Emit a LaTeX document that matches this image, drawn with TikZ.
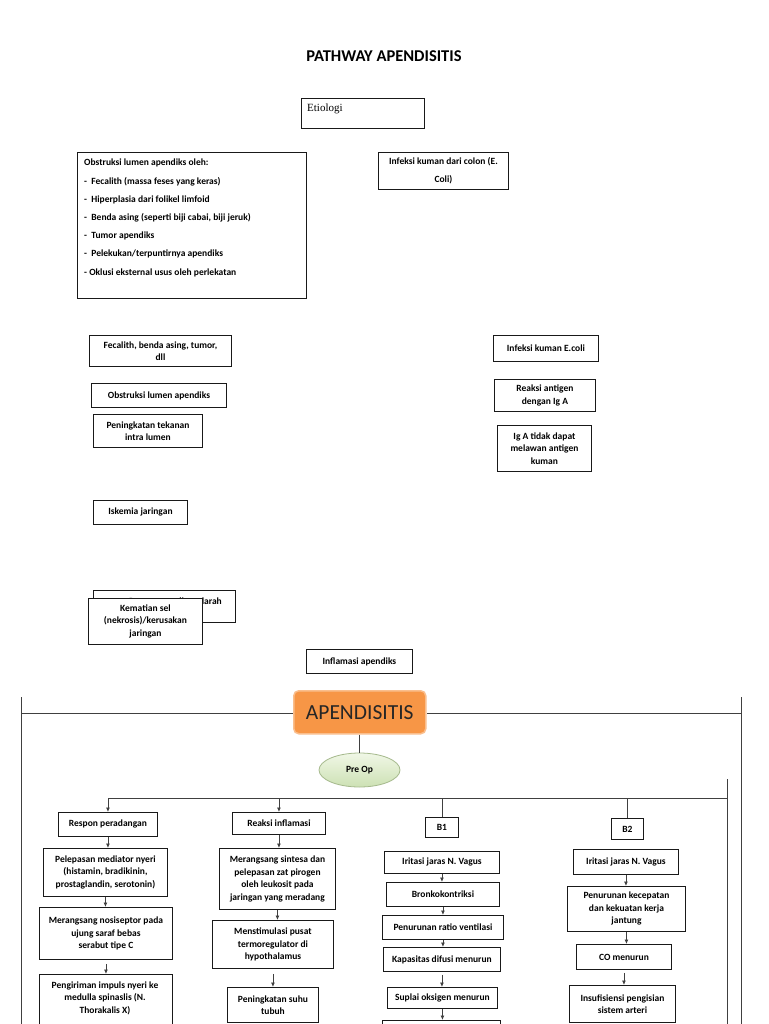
\documentclass[tikz,border=0pt]{standalone}
\usepackage{fontspec}
\setmainfont{Carlito}
\newfontfamily\etiofont{Liberation Serif}
\usetikzlibrary{shapes.geometric,arrows.meta}
\newcommand\bodyf{\fontsize{9.5}{12.5}\selectfont\bfseries}
\newcommand\bodysp{\fontsize{9.5}{18.2}\selectfont\bfseries}
\definecolor{apor}{RGB}{247,150,70}
\definecolor{apbd}{RGB}{250,190,140}
\definecolor{pogr}{RGB}{205,225,180}
\definecolor{potop}{RGB}{240,247,230}
\definecolor{pobd}{RGB}{165,185,140}
\newcommand\bxx[7][]{\node[box,#1,minimum width=#5pt,minimum height=#6pt] (#2) at (#3,#4) {#7};}
\begin{document}
\begin{tikzpicture}[x=1pt,y=-1pt,
  box/.style={draw=black!90, line width=0.9pt, fill=white, inner sep=0pt, anchor=north west, align=center, font=\bodyf},
  txt/.style={font=\bodyf, align=center, inner sep=0pt},
  ln/.style={draw=black!75, line width=0.8pt},
  arr/.style={ln, -{Latex[length=4.5pt,width=4pt]}}]
\useasboundingbox (0,0) rectangle (768,1024);
\clip (0,0) rectangle (768,1024);
\fill[white] (0,0) rectangle (768,1024);

% title
\node[font=\fontsize{16.5}{19}\selectfont\bfseries, inner sep=0pt] (title) at (384,56) {PATHWAY APENDISITIS};

% etiologi
\bxx{etio}{301}{98}{123}{30}{}
\node[anchor=base west, font=\etiofont\fontsize{11}{13}\selectfont, inner sep=0pt] (etio-t) at (307,111.5) {Etiologi};

\bxx{obs}{77}{152}{229}{146}{}
\node[anchor=north west, align=left, inner sep=0pt, font=\bodysp] (obs-t) at (84,159) {Obstruksi lumen apendiks oleh:\\
-~~Fecalith (massa feses yang keras)\\
-~~Hiperplasia dari folikel limfoid\\
-~~Benda asing (seperti biji cabai, biji jeruk)\\
-~~Tumor apendiks\\
-~~Pelekukan/terpuntirnya apendiks\\
-~Oklusi eksternal usus oleh perlekatan};

\bxx[font=\bodysp]{infcol}{378}{152}{130}{37}{Infeksi kuman dari colon (E.\\Coli)}

% middle left
\bxx{fec}{89}{335}{142}{31}{Fecalith, benda asing, tumor,\\dll}
\bxx{obl}{91}{383}{135}{24}{Obstruksi lumen apendiks}
\bxx{pen}{93}{414}{109}{33}{Peningkatan tekanan\\intra lumen}
\bxx{isk}{93}{500}{94}{24}{Iskemia jaringan}
\bxx{pad}{93}{590}{142}{32}{}
\node[txt, anchor=base east] (pad-t) at (222,604) {Penurunan aliran darah};
\bxx{kem}{88}{598}{114}{46}{Kematian sel\\(nekrosis)/kerusakan\\jaringan}
\bxx{inf}{306}{649}{106}{24}{Inflamasi apendiks}

% middle right
\bxx{ecoli}{493}{335}{105}{26}{Infeksi kuman E.coli}
\bxx{reak}{494}{379}{101}{32}{Reaksi antigen\\dengan Ig A}
\bxx{iga}{497}{425}{94}{46}{Ig A tidak dapat\\melawan antigen\\kuman}

% frame
\coordinate (flt) at (21,697); \coordinate (flb) at (21,1030);
\coordinate (frt) at (741,697); \coordinate (frb) at (741,1030);
\coordinate (fl) at (21,713); \coordinate (fr) at (741,713);
\draw[ln] (flt) -- (flb);
\draw[ln] (frt) -- (frb);

\node[rectangle, rounded corners=5pt, fill=apor, draw=apbd, line width=1.5pt, minimum width=132pt, minimum height=43pt, anchor=north west, inner sep=0pt, font=\fontsize{21.5}{24}\selectfont, text=black!85] (apd) at (293,690) {APENDISITIS};
\draw[ln] (fl) -- (fl -| apd.west);
\draw[ln] (fr) -- (fr -| apd.east);

\node[ellipse, draw=pobd, line width=0.8pt, top color=potop, bottom color=pogr, minimum width=81pt, minimum height=34pt, inner sep=0pt, font=\bodyf] (preop) at (359.5,770) {Pre Op};
\draw[ln] (apd.south) -- (apd.south |- preop.north);

% column 1
\bxx{resp}{58}{812}{99}{24}{Respon peradangan}
\bxx{pel}{43}{848}{124}{48}{Pelepasan mediator nyeri\\(histamin, bradikinin,\\prostaglandin, serotonin)}
\bxx{mer}{39}{907}{133}{52}{Merangsang nosiseptor pada\\ujung saraf bebas\\serabut tipe C}
\bxx{kir}{39}{974}{133}{70}{}
\node[txt] (kir-t) at (105,998) {Pengiriman impuls nyeri ke\\medulla spinaslis (N.\\Thorakalis X)};

% column 2
\bxx{reak2}{232}{812}{93}{22}{Reaksi inflamasi}
\bxx{sint}{219}{848}{116}{61}{Merangsang sintesa dan\\pelepasan zat pirogen\\oleh leukosit pada\\jaringan yang meradang}
\bxx{stim}{212}{920}{121}{48}{Menstimulasi pusat\\termoregulator di\\hypothalamus}
\bxx{suhu}{227}{987}{91}{35}{Peningkatan suhu\\tubuh}

% column 3
\bxx{b1}{425}{817}{33}{20}{B1}
\bxx{ir1}{384}{851}{115}{22}{Iritasi jaras N. Vagus}
\bxx{bro}{386}{882}{113}{24}{Bronkokontriksi}
\bxx{rat}{382}{915}{121}{24}{Penurunan ratio ventilasi}
\bxx{kap}{383}{947}{117}{24}{Kapasitas difusi menurun}
\bxx{sup}{387}{987}{110}{21}{Suplai oksigen menurun}
\bxx{nxt}{382}{1020}{118}{30}{}

% column 4
\bxx{b2}{611}{818}{32}{21}{B2}
\bxx{ir2}{573}{849}{105}{25}{Iritasi jaras N. Vagus}
\bxx{kec}{567}{886}{118}{45}{Penurunan kecepatan\\dan kekuatan kerja\\jantung}
\bxx{co}{576}{944}{95}{25}{CO menurun}
\bxx{ins}{569}{985}{106}{37}{Insufisiensi pengisian\\sistem arteri}

% branch
\coordinate (brt) at (727,779); \coordinate (brb) at (727,1030); \coordinate (br) at (727,798);
\draw[ln] (brt) -- (brb);
\draw[arr] (br) -| (resp.north);
\draw[arr] (reak2.north |- br) -- (reak2.north);
\draw[ln] (b1.north |- br) -- (b1.north);
\draw[ln] (b2.north |- br) -- (b2.north);

% arrows
\draw[arr] (resp.south) -- (resp.south |- pel.north);
\draw[arr] (pel.south) -- (pel.south |- mer.north);
\draw[arr, shorten <=4pt] (mer.south) -- (mer.south |- kir.north);
\draw[arr] (reak2.south) -- (reak2.south |- sint.north);
\draw[arr] (sint.south) -- (sint.south |- stim.north);
\draw[arr, shorten <=5pt] (stim.south) -- (stim.south |- suhu.north);
\draw[arr] (ir1.south) -- (ir1.south |- bro.north);
\draw[arr] (bro.south) -- (bro.south |- rat.north);
\draw[arr] (rat.south) -- (rat.south |- kap.north);
\draw[arr, shorten <=3pt] (kap.south) -- (kap.south |- sup.north);
\draw[arr] (sup.south) -- (sup.south |- nxt.north);
\draw[arr] (ir2.south) -- (ir2.south |- kec.north);
\draw[arr] (kec.south) -- (kec.south |- co.north);
\draw[arr, shorten <=3pt] (co.south) -- (co.south |- ins.north);
\end{tikzpicture}
\end{document}
